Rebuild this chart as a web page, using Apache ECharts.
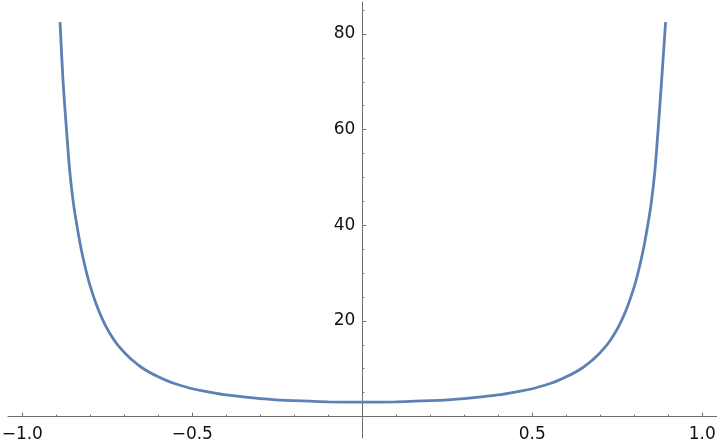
<!doctype html>
<html>
    <head>
        <meta charset="utf-8">
        <style>
            html, body { margin: 0; padding: 0; background: #fff; }
            #main { width: 720px; height: 448px; }
        </style>
    </head>
    <body>
        <div id="main"></div>
        <script src="https://cdn.jsdelivr.net/npm/echarts@6/dist/echarts.min.js"></script>
        <script>
            // values
            var xs = [
                -0.889, -0.88, -0.87, -0.86, -0.85, -0.84, -0.83, -0.82, -0.81, -0.80,
                -0.78, -0.76, -0.74, -0.72, -0.71, -0.70, -0.675, -0.65, -0.625, -0.60,
                -0.575, -0.55, -0.50, -0.45, -0.40, -0.30, -0.20, -0.10, 0,
                0.10, 0.20, 0.30, 0.40, 0.45, 0.50, 0.55, 0.575, 0.60, 0.625,
                0.65, 0.675, 0.70, 0.71, 0.72, 0.74, 0.76, 0.78, 0.80, 0.81,
                0.82, 0.83, 0.84, 0.85, 0.86, 0.87, 0.88, 0.892
            ];
            var ys = [
                82.5, 70, 60, 51, 44.8, 40.2, 36.2, 32.8, 29.8, 27.2,
                23.0, 19.7, 17.1, 15.0, 14.2, 13.4, 11.7, 10.3, 9.2, 8.3,
                7.5, 6.85, 5.8, 5.1, 4.5, 3.75, 3.3, 3.07, 3.0,
                3.07, 3.3, 3.75, 4.5, 5.1, 5.8, 6.85, 7.5, 8.3, 9.2,
                10.3, 11.7, 13.4, 14.2, 15.0, 17.1, 19.7, 23.0, 27.2, 29.8,
                32.8, 36.2, 40.2, 44.8, 51, 60, 70, 82.5
            ];

            var xMajor = [-1, -0.5, 0.5, 1];
            var xMinor = [-0.9, -0.8, -0.7, -0.6, -0.4, -0.3, -0.2, -0.1, 0.1, 0.2, 0.3, 0.4, 0.6, 0.7, 0.8, 0.9];
            var yMajor = [20, 40, 60, 80];
            var yMinor = [5, 10, 15, 25, 30, 35, 45, 50, 55, 65, 70, 75, 85];

            var axisColor = '#6e6e6e';
            var labelFont = { fontFamily: 'DejaVu Sans', fontSize: 17, color: '#111' };

            // axes cross at the origin: shift them off the grid edges
            var xOff = -21.3;   // x axis from grid bottom (438) up to y=0 (416.7)
            var yOff = -354.3;  // y axis from grid left (8) over to x=0 (362.3)

            function fmt(v) {
                return v < 0 ? '\u2212' + Math.abs(v).toFixed(1) : v.toFixed(1);
            }

            var chart = echarts.init(document.getElementById('main'));

            chart.setOption({
                animation: false,
                grid: {
                    left: 8,
                    right: 3.4,
                    top: 2,
                    bottom: 10,
                    containLabel: false,
                    outerBoundsMode: 'none'
                },
                xAxis: [{
                    type: 'value',
                    min: -1.042,
                    max: 1.042,
                    position: 'bottom',
                    offset: xOff,
                    axisLine: { onZero: false, lineStyle: { color: axisColor, width: 1 } },
                    axisTick: { inside: true, length: 4, customValues: xMajor, lineStyle: { color: axisColor } },
                    axisLabel: Object.assign({ customValues: xMajor, margin: 9, formatter: fmt }, labelFont),
                    splitLine: { show: false }
                }, {
                    type: 'value',
                    min: -1.042,
                    max: 1.042,
                    position: 'bottom',
                    offset: xOff,
                    axisLine: { show: false, onZero: false },
                    axisTick: { inside: true, length: 2, customValues: xMinor, lineStyle: { color: axisColor } },
                    axisLabel: { show: false },
                    splitLine: { show: false }
                }],
                yAxis: [{
                    type: 'value',
                    min: -4.5,
                    max: 86.7,
                    position: 'left',
                    offset: yOff,
                    axisLine: { show: true, onZero: false, lineStyle: { color: axisColor, width: 1 } },
                    axisTick: { show: true, inside: true, length: 4, customValues: yMajor, lineStyle: { color: axisColor } },
                    axisLabel: Object.assign({ customValues: yMajor, margin: 7 }, labelFont),
                    splitLine: { show: false }
                }, {
                    type: 'value',
                    min: -4.5,
                    max: 86.7,
                    position: 'left',
                    offset: yOff,
                    axisLine: { show: false, onZero: false },
                    axisTick: { show: true, inside: true, length: 2, customValues: yMinor, lineStyle: { color: axisColor } },
                    axisLabel: { show: false },
                    splitLine: { show: false }
                }],
                series: [{
                    type: 'line',
                    data: xs.map(function (x, i) { return [x, ys[i]]; }),
                    showSymbol: false,
                    smooth: 0.25,
                    lineStyle: { color: '#5e81b5', width: 2.8 },
                    silent: true
                }]
            });

            window.addEventListener('resize', function () {
                chart.resize();
            });
        </script>
    </body>
</html>
